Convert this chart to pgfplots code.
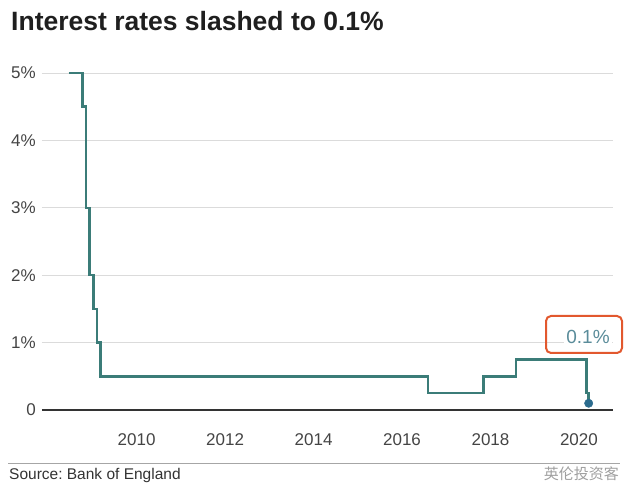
\documentclass[border=0pt]{standalone}
\usepackage{fontspec}
\setmainfont{Liberation Sans}
\newfontfamily\cjk{Noto Sans CJK SC}
\usepackage{pgfplots}
\pgfplotsset{compat=1.18}
\definecolor{linec}{HTML}{3B7C78}
\definecolor{dotc}{HTML}{2C6C8E}
\definecolor{annot}{HTML}{E2582E}
\definecolor{annottext}{HTML}{5A8C9A}
\definecolor{tickc}{HTML}{444444}
\frenchspacing
\begin{document}
\begin{tikzpicture}[x=1pt,y=1pt]
\path[use as bounding box] (0,0) rectangle (640,503);
\begin{axis}[
  at={(42pt,93pt)}, anchor=south west, scale only axis,
  width=571pt, height=337pt,
  xmin=2007.86, xmax=2020.77, ymin=0, ymax=5,
  clip=false,
  axis line style={draw=none},
  major tick length=0pt,
  xtick={2010,2012,2014,2016,2018,2020},
  xticklabels={2010,2012,2014,2016,2018,2020},
  ytick={1,2,3,4,5},
  yticklabels={1\%,2\%,3\%,4\%,5\%},
  extra y ticks={0},
  extra y tick labels={0},
  extra y tick style={major grid style={color=black!80, line width=1.8pt}},
  ymajorgrids,
  major grid style={color=gray!28, line width=0.9pt},
  xticklabel style={font=\fontsize{17}{20}\selectfont, text=tickc, anchor=north, inner sep=0pt, yshift=-23pt},
  yticklabel style={font=\fontsize{17}{20}\selectfont, text=tickc, anchor=east, inner sep=0pt, xshift=-6pt},
]
\addplot[const plot, color=linec, line width=2.5pt, line join=miter] coordinates {
  (2008.46,5) (2008.78,4.5) (2008.85,3) (2008.93,2) (2009.02,1.5) (2009.10,1)
  (2009.18,0.5) (2016.59,0.25) (2017.84,0.5) (2018.58,0.75) (2020.17,0.25) (2020.22,0.1)
};
\addplot[only marks, mark=*, mark size=4.2pt, color=dotc] coordinates {(2020.22,0.1)};
\end{axis}
\node[anchor=base west, inner sep=0pt, font=\fontsize{26.5}{30}\selectfont\bfseries, text=black!88] at (11,472) {Interest rates slashed to 0.1\%};
\draw[annot, line width=2pt, rounded corners=5pt] (546,150) rectangle (622,187);
\node[fill=white, inner sep=2pt, font=\fontsize{19}{22}\selectfont, text=annottext] at (588,166) {0.1\%};
\draw[gray!70, line width=1pt] (8,39) -- (620,39);
\node[anchor=base west, inner sep=0pt, font=\fontsize{15.5}{18}\selectfont, text=black!80] at (9,23) {Source: Bank of England};
\node[anchor=base east, inner sep=0pt, font=\cjk\fontsize{15}{18}\selectfont, text=gray!75] at (619,23) {英伦投资客};
\end{tikzpicture}
\end{document}
